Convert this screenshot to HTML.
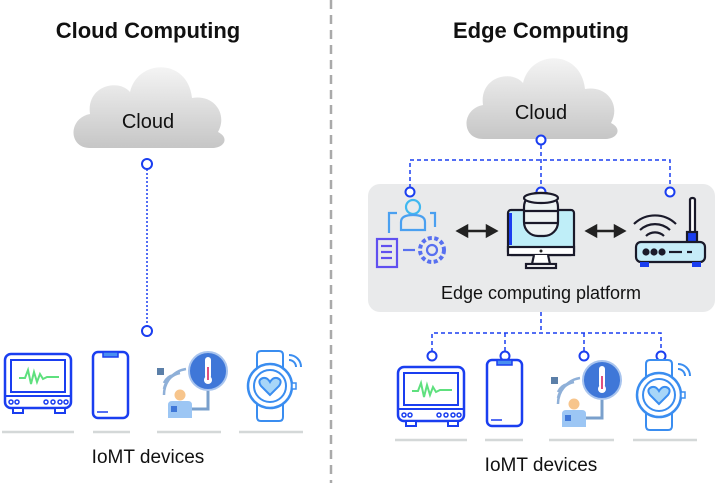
<!DOCTYPE html>
<html><head><style>
body{margin:0;width:717px;height:483px;background:#fff;overflow:hidden;font-family:"Liberation Sans",Arial,sans-serif}
</style></head><body>
<svg width="717" height="483" viewBox="0 0 717 483" xmlns="http://www.w3.org/2000/svg" font-family="Liberation Sans, Arial, sans-serif">
<defs>
<linearGradient id="cg" x1="0" y1="0" x2="0" y2="1"><stop offset="0" stop-color="#f4f4f4"/><stop offset="1" stop-color="#c6c6c6"/></linearGradient>
<g id="cloud">
<path d="M-58,32 C-80,32 -80,2 -58,-2 C-62,-30 -30,-38 -18,-24 C-10,-58 40,-58 44,-18 C66,-22 80,-2 70,16 C82,22 76,32 64,32 Z" fill="url(#cg)"/>
</g>
<g id="mon">
<rect x="2" y="2" width="66" height="54" rx="6" fill="#fff" stroke="#1a3ef0" stroke-width="2.5"/>
<rect x="8" y="8" width="54" height="32" fill="#fff" stroke="#1a3ef0" stroke-width="2"/>
<line x1="2" y1="44" x2="68" y2="44" stroke="#1a3ef0" stroke-width="2"/>
<polyline points="16,26 22,26 25,18 28,32 31,20 34,30 37,22 40,27 44,25 56,25" fill="none" stroke="#5ee07e" stroke-width="2"/>
<circle cx="8" cy="50" r="2" fill="none" stroke="#1a3ef0" stroke-width="1.5"/><circle cx="14" cy="50" r="2" fill="none" stroke="#1a3ef0" stroke-width="1.5"/>
<circle cx="43" cy="50" r="2" fill="none" stroke="#1a3ef0" stroke-width="1.5"/><circle cx="50" cy="50" r="2" fill="none" stroke="#1a3ef0" stroke-width="1.5"/><circle cx="57" cy="50" r="2" fill="none" stroke="#1a3ef0" stroke-width="1.5"/><circle cx="63" cy="50" r="2" fill="none" stroke="#1a3ef0" stroke-width="1.5"/>
<rect x="10" y="56" width="10" height="5" fill="#fff" stroke="#1a3ef0" stroke-width="2"/><rect x="52" y="56" width="10" height="5" fill="#fff" stroke="#1a3ef0" stroke-width="2"/>
</g>
<g id="phone">
<rect x="1" y="1" width="35" height="66" rx="5" fill="#fff" stroke="#1a3ef0" stroke-width="2.5"/>
<rect x="11" y="1" width="15" height="5" fill="#4a8ff0" stroke="#1a3ef0" stroke-width="1.5"/>
<line x1="5" y1="61" x2="16" y2="61" stroke="#1a3ef0" stroke-width="1.5"/>
</g>
<g id="thermo">
<path d="M8,44 A26,26 0 0 1 30,18" fill="none" stroke="#8fb0d8" stroke-width="2.5"/>
<path d="M8,38 A20,20 0 0 1 24,22" fill="none" stroke="#8fb0d8" stroke-width="2.5"/>
<path d="M8,32 A14,14 0 0 1 18,24" fill="none" stroke="#8fb0d8" stroke-width="2.5"/>
<rect x="1" y="17" width="7" height="7" fill="#5b7fa8"/>
<circle cx="52" cy="20" r="19" fill="#3f77d8" stroke="#a8c4ee" stroke-width="2"/>
<rect x="49" y="6" width="6" height="22" rx="3" fill="#fff"/><circle cx="52" cy="29" r="4" fill="#fff"/>
<line x1="52" y1="16" x2="52" y2="29" stroke="#e05080" stroke-width="2"/>
<polyline points="52,40 52,58 18,58" fill="none" stroke="#7aa0cc" stroke-width="3"/>
<circle cx="24" cy="44" r="5.5" fill="#f7c58c"/>
<path d="M12,67 L12,54 Q12,50 16,50 L32,50 Q36,50 36,54 L36,67 Z" fill="#9cc6f4"/>
<rect x="15" y="55" width="6" height="6" fill="#3f77d8"/>
</g>
<g id="watch">
<path d="M12,4 Q12,0 16,0 L34,0 Q38,0 38,4 L38,66 Q38,70 34,70 L16,70 Q12,70 12,66 Z" fill="#fff" stroke="#3a8df0" stroke-width="2"/>
<circle cx="25" cy="35" r="22" fill="#fff" stroke="#3a8df0" stroke-width="2.5"/>
<circle cx="25" cy="35" r="16" fill="none" stroke="#3a8df0" stroke-width="2"/>
<path d="M25,44 L16,35 Q12,29 18,27 Q22,26 25,31 Q28,26 32,27 Q38,29 34,35 Z" fill="#a7d6f8" stroke="#3a8df0" stroke-width="2"/>
<rect x="47" y="32" width="4" height="6" fill="#fff" stroke="#3a8df0" stroke-width="1.5"/>
<path d="M44,4 A12,12 0 0 1 56,16" fill="none" stroke="#3a8df0" stroke-width="2"/>
<path d="M44,9 A7,7 0 0 1 51,16" fill="none" stroke="#3a8df0" stroke-width="2"/>
</g>
</defs>

<line x1="331" y1="0" x2="331" y2="483" stroke="#aaa" stroke-width="2.5" stroke-dasharray="9,6"/>
<text x="148" y="38" text-anchor="middle" font-size="22" font-weight="bold" fill="#111">Cloud Computing</text>
<text x="541" y="38" text-anchor="middle" font-size="22" font-weight="bold" fill="#111">Edge Computing</text>

<use href="#cloud" x="148" y="116"/>
<text x="148" y="128" text-anchor="middle" font-size="20" fill="#111">Cloud</text>
<line x1="147" y1="169" x2="147" y2="326" stroke="#1a3ef0" stroke-width="1.5" stroke-dasharray="2,2"/>
<circle cx="147" cy="164" r="5" fill="#fff" stroke="#1a3ef0" stroke-width="2"/>
<circle cx="147" cy="331" r="5" fill="#fff" stroke="#1a3ef0" stroke-width="2"/>
<use href="#mon" x="3" y="352"/>
<use href="#phone" x="92" y="351"/>
<use href="#thermo" x="156" y="351"/>
<use href="#watch" x="245" y="351"/>
<g stroke="#d4d8d8" stroke-width="2.5"><line x1="2" y1="432" x2="74" y2="432"/><line x1="93" y1="432" x2="130" y2="432"/><line x1="157" y1="432" x2="221" y2="432"/><line x1="239" y1="432" x2="303" y2="432"/></g>
<text x="148" y="463" text-anchor="middle" font-size="19" fill="#111">IoMT devices</text>

<use href="#cloud" x="541" y="107"/>
<text x="541" y="119" text-anchor="middle" font-size="20" fill="#111">Cloud</text>
<rect x="368" y="184" width="347" height="128" rx="12" fill="#e9eaeb"/>
<g fill="none" stroke="#1a3ef0" stroke-width="1.5" stroke-dasharray="4,3">
<line x1="541" y1="145" x2="541" y2="188"/>
<polyline points="410,188 410,160 670,160 670,188"/>
<line x1="541" y1="312" x2="541" y2="333"/>
<polyline points="432,352 432,333 661,333 661,352"/>
<line x1="505" y1="333" x2="505" y2="352"/><line x1="584" y1="333" x2="584" y2="352"/>
</g>
<g fill="#fff" stroke="#1a3ef0" stroke-width="2">
<circle cx="541" cy="140" r="4.5"/><circle cx="410" cy="192" r="4.5"/><circle cx="541" cy="192" r="4.5"/><circle cx="670" cy="192" r="4.5"/>
<circle cx="432" cy="356" r="4.5"/><circle cx="505" cy="356" r="4.5"/><circle cx="584" cy="356" r="4.5"/><circle cx="661" cy="356" r="4.5"/>
</g>
<g fill="none" stroke-width="2.2">
<circle cx="413" cy="207" r="7" stroke="#40b8f0"/>
<path d="M401,230 L401,222 Q401,215 413,215 Q425,215 425,222 L425,230 Z" stroke="#4aa0f0"/>
<polyline points="389,233 389,213 397,213" stroke="#4aa0f0"/>
<polyline points="430,213 435,213 435,227" stroke="#4aa0f0"/>
<rect x="377" y="239" width="20" height="28" stroke="#6050f0"/>
<line x1="381" y1="246" x2="392" y2="246" stroke="#6050f0"/><line x1="381" y1="252" x2="392" y2="252" stroke="#6050f0"/><line x1="381" y1="258" x2="392" y2="258" stroke="#6050f0"/>
<circle cx="432" cy="250" r="12" stroke-dasharray="4,2.5" stroke-width="4" stroke="#5870f0"/>
<circle cx="432" cy="250" r="5" stroke="#5870f0"/>
<line x1="415" y1="250" x2="403" y2="250" stroke="#5870f0"/>
</g>
<g stroke="#222" stroke-width="2.5" fill="#222">
<line x1="464" y1="231" x2="491" y2="231"/><path d="M458,231 L467,226 L467,236Z"/><path d="M496,231 L487,226 L487,236Z"/>
<line x1="593" y1="231" x2="619" y2="231"/><path d="M587,231 L596,226 L596,236Z"/><path d="M624,231 L615,226 L615,236Z"/>
</g>
<g stroke="#1a1a2a" stroke-width="2.2">
<rect x="508" y="210" width="66" height="45" rx="3" fill="#bfeef8"/>
<rect x="508" y="247" width="66" height="8" fill="#fff"/>
<path d="M534,255 L532,264 L550,264 L548,255" fill="#fff"/>
<rect x="526" y="264" width="30" height="4" fill="#fff"/>
<rect x="524" y="193" width="34" height="43" rx="14" fill="#eef3f3"/>
<ellipse cx="541" cy="198" rx="17" ry="5" fill="#eef3f3"/>
<line x1="524" y1="211" x2="558" y2="211"/><line x1="524" y1="223" x2="558" y2="223"/>
</g>
<rect x="509" y="213" width="3" height="32" fill="#1a3ef0"/>
<circle cx="541" cy="251" r="1.5" fill="#222"/>
<g stroke="#1a1a2a" stroke-width="2.2" fill="none">
<path d="M634,224 A30,30 0 0 1 676,224"/><path d="M640,230 A22,22 0 0 1 670,230"/><path d="M646,236 A13,13 0 0 1 664,236"/>
<rect x="690" y="198" width="5" height="38" rx="2" fill="#fff"/>
<rect x="687" y="232" width="10" height="12" fill="#1a3ef0"/>
<rect x="636" y="242" width="69" height="20" rx="5" fill="#c6ecf8"/>
<circle cx="646" cy="252" r="2.5" fill="#1a1a2a"/><circle cx="654" cy="252" r="2.5" fill="#1a1a2a"/><circle cx="662" cy="252" r="2.5" fill="#1a1a2a"/>
<line x1="669" y1="252" x2="682" y2="252"/><line x1="687" y1="252" x2="692" y2="252"/>
</g>
<rect x="640" y="262" width="9" height="5" fill="#1a3ef0"/><rect x="692" y="262" width="9" height="5" fill="#1a3ef0"/>
<text x="541" y="299" text-anchor="middle" font-size="18" fill="#111">Edge computing platform</text>

<use href="#mon" x="396" y="365"/>
<use href="#phone" x="486" y="359"/>
<use href="#thermo" x="550" y="360"/>
<use href="#watch" x="634" y="360"/>
<g stroke="#d4d8d8" stroke-width="2.5"><line x1="395" y1="440" x2="467" y2="440"/><line x1="485" y1="440" x2="523" y2="440"/><line x1="549" y1="440" x2="614" y2="440"/><line x1="633" y1="440" x2="697" y2="440"/></g>
<text x="541" y="471" text-anchor="middle" font-size="19" fill="#111">IoMT devices</text>
</svg>
</body></html>
